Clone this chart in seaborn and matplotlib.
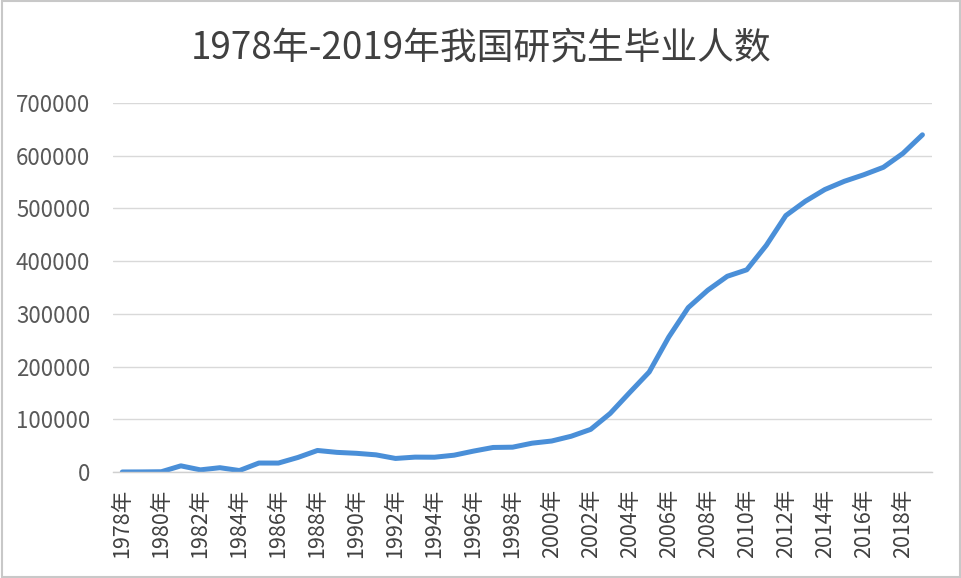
import matplotlib
matplotlib.use("Agg")
import matplotlib.pyplot as plt
import matplotlib.patches as mpatches
import pandas as pd
import seaborn as sns

# Data (graduates per year)
years = list(range(1978, 2020))
year_labels = [f"{y}年" for y in years]
graduates = [9, 140, 476, 11669, 4058, 8144, 2756, 17004, 16950, 27603,
             40838, 37232, 35440, 32537, 25692, 28214, 28047, 31877, 39652, 46539,
             47077, 54670, 58767, 67809, 80841, 111091, 150777, 189728, 255902, 311839,
             344825, 371273, 383600, 429994, 486455, 513626, 535863, 551522, 563938, 578045,
             604368, 639666]
y_ticks = [0, 100000, 200000, 300000, 400000, 500000, 600000, 700000]
title = "1978年-2019年我国研究生毕业人数"

df = pd.DataFrame({"year": year_labels, "count": graduates})

sns.set_theme(style="white")
plt.rcParams['font.family'] = ['Noto Sans CJK SC', 'DejaVu Sans']

fig = plt.figure(figsize=(9.62, 5.78), dpi=100)
ax = fig.add_axes([0.117, 0.1834, 0.852, 0.6384])

sns.lineplot(data=df, x="year", y="count", ax=ax, color="#4a8fd8",
             linewidth=3.6, sort=False)

ax.set_xlim(-0.5, len(years) - 0.5)
ax.set_ylim(0, 700000)
ax.set_yticks(y_ticks)
ax.set_yticklabels([str(v) for v in y_ticks])
ax.set_xticks(range(0, len(years), 2))
ax.set_xticklabels(year_labels[::2], rotation=90)

ax.grid(axis="y", color="#d9d9d9", linewidth=1)
ax.set_axisbelow(True)
for side in ["top", "right", "left"]:
    ax.spines[side].set_visible(False)
ax.spines["bottom"].set_color("#d0d0d0")
ax.spines["bottom"].set_linewidth(1)

ax.tick_params(axis="y", length=0, pad=16, labelsize=16, labelcolor="#595959")
ax.tick_params(axis="x", length=0, pad=12, labelsize=15.5, labelcolor="#404040")
ax.set_xlabel("")
ax.set_ylabel("")

fig.text(0.5, 0.915, title, ha="center", va="center", fontsize=26.5, color="#404040")

# thin frame around the picture
fig.patches.append(mpatches.Rectangle((0.002, 0.002), 0.996, 0.996, transform=fig.transFigure,
                                      fill=False, edgecolor="#c8c8c8", linewidth=1.5))

fig.savefig("out.png", dpi=100)
